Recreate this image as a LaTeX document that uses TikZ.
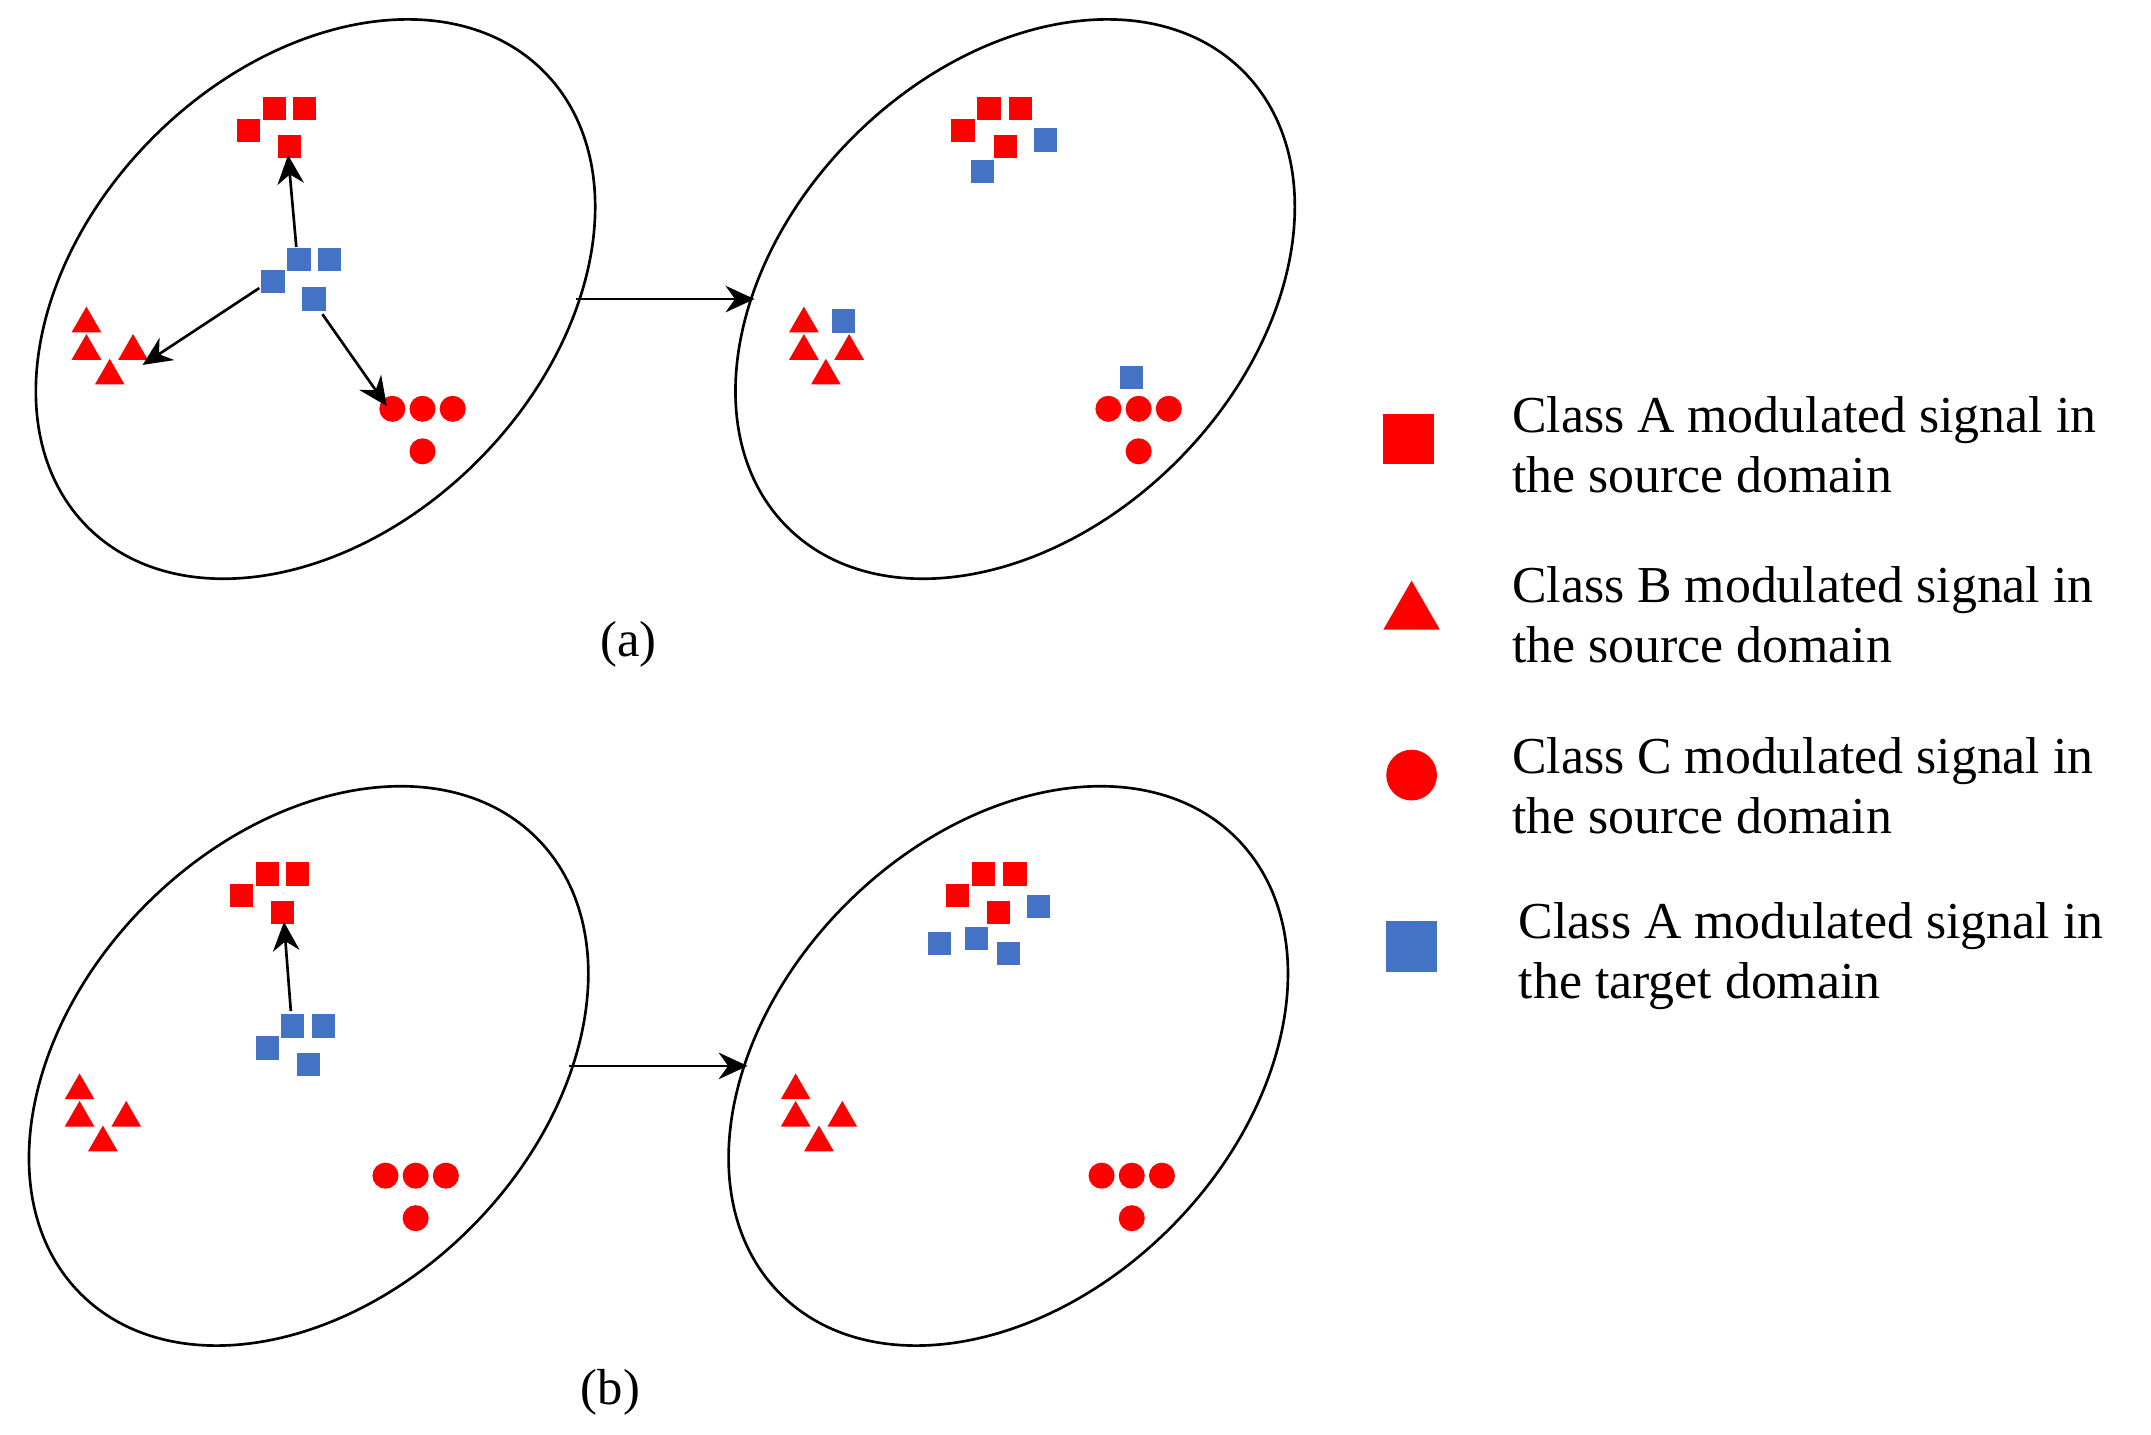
\documentclass[tikz,border=0pt]{standalone}
\usepackage{fontspec}
\setmainfont{Liberation Serif}
\usetikzlibrary{arrows.meta,shapes.geometric}
\definecolor{rd}{RGB}{255,0,0}
\definecolor{bl}{RGB}{68,114,196}
\begin{document}
\begin{tikzpicture}[x=0.02cm,y=-0.02cm,
 sq/.style={fill=rd,inner sep=0,minimum size=0.34cm,draw=none},
 bsq/.style={fill=bl,inner sep=0,minimum size=0.34cm,draw=none},
 tri/.style={regular polygon,regular polygon sides=3,fill=rd,inner sep=0,minimum size=0.5cm,draw=none},
 dot/.style={circle,fill=rd,inner sep=0,minimum size=0.38cm,draw=none},
 ell/.style={draw,line width=1.1pt},
 arr/.style={-{Stealth[length=12pt,width=11pt]},line width=1.1pt},
 lab/.style={font=\fontsize{21.5}{25}\selectfont,anchor=west,align=left}]
\useasboundingbox (0,0) rectangle (1568,1046);
% ellipses
\foreach \n/\cx/\cy in {e1/230/218,e2/740/218,e3/225/777,e4/735/777}
  \draw[ell,rotate around={45:(\cx,\cy)}] (\cx,\cy) ellipse [x radius=235, y radius=167];
\coordinate (a1) at (420,218); \coordinate (a2) at (550,218);
\coordinate (b1) at (415,777); \coordinate (b2) at (545,777);
\draw[arr] (a1) -- (a2);
\draw[arr] (b1) -- (b2);
% A1
\foreach \x/\y in {200/79,222/79,181/95,211/107} \node[sq] at (\x,\y) {};
\foreach \x/\y in {218/189,240/189,199/205,229/218} \node[bsq] at (\x,\y) {};
\foreach \x/\y in {63/236,63/256,97/256,80/274} \node[tri] at (\x,\y) {};
\foreach \x/\y in {286/298,308/298,330/298,308/329} \node[dot] at (\x,\y) {};
\coordinate (s1) at (216,180); \coordinate (t1) at (210,113);
\coordinate (s2) at (189,210); \coordinate (t2) at (104,266);
\coordinate (s3) at (235,229); \coordinate (t3) at (282,296);
\draw[arr] (s1) -- (t1); \draw[arr] (s2) -- (t2); \draw[arr] (s3) -- (t3);
% A2
\foreach \x/\y in {721/79,744/79,702/95,733/107} \node[sq] at (\x,\y) {};
\foreach \x/\y in {762/102,716/125,615/234,825/275} \node[bsq] at (\x,\y) {};
\foreach \x/\y in {586/236,586/256,619/256,602/274} \node[tri] at (\x,\y) {};
\foreach \x/\y in {808/298,830/298,852/298,830/329} \node[dot] at (\x,\y) {};
% B1
\foreach \x/\y in {195/637,217/637,176/653,206/665} \node[sq] at (\x,\y) {};
\foreach \x/\y in {213/748,236/748,195/764,225/776} \node[bsq] at (\x,\y) {};
\foreach \x/\y in {58/795,58/815,92/815,75/833} \node[tri] at (\x,\y) {};
\foreach \x/\y in {281/857,303/857,325/857,303/888} \node[dot] at (\x,\y) {};
\coordinate (s4) at (212,737); \coordinate (t4) at (207,672);
\draw[arr] (s4) -- (t4);
% B2
\foreach \x/\y in {717/637,740/637,698/653,728/665} \node[sq] at (\x,\y) {};
\foreach \x/\y in {757/661,685/688,712/684,735/695} \node[bsq] at (\x,\y) {};
\foreach \x/\y in {580/795,580/815,614/815,597/833} \node[tri] at (\x,\y) {};
\foreach \x/\y in {803/857,825/857,847/857,825/888} \node[dot] at (\x,\y) {};
% captions
\node[font=\fontsize{21}{25}\selectfont] (ca) at (458,470) {(a)};
\node[font=\fontsize{21}{25}\selectfont] (cb) at (445,1015) {(b)};
% legend
\node[sq,minimum size=0.74cm] (l1) at (1027,320) {};
\node[tri,minimum size=0.95cm] (l2) at (1029,447) {};
\node[dot,minimum size=0.74cm] (l3) at (1029,565) {};
\node[bsq,minimum size=0.74cm] (l4) at (1029,690) {};
\node[lab] (t1l) at (1096,324) {Class A modulated signal in\\the source domain};
\node[lab] (t2l) at (1096,448) {Class B modulated signal in\\the source domain};
\node[lab] (t3l) at (1096,573) {Class C modulated signal in\\the source domain};
\node[lab] (t4l) at (1101,697) {Class A modulated signal in\\the target domain};
\end{tikzpicture}
\end{document}
